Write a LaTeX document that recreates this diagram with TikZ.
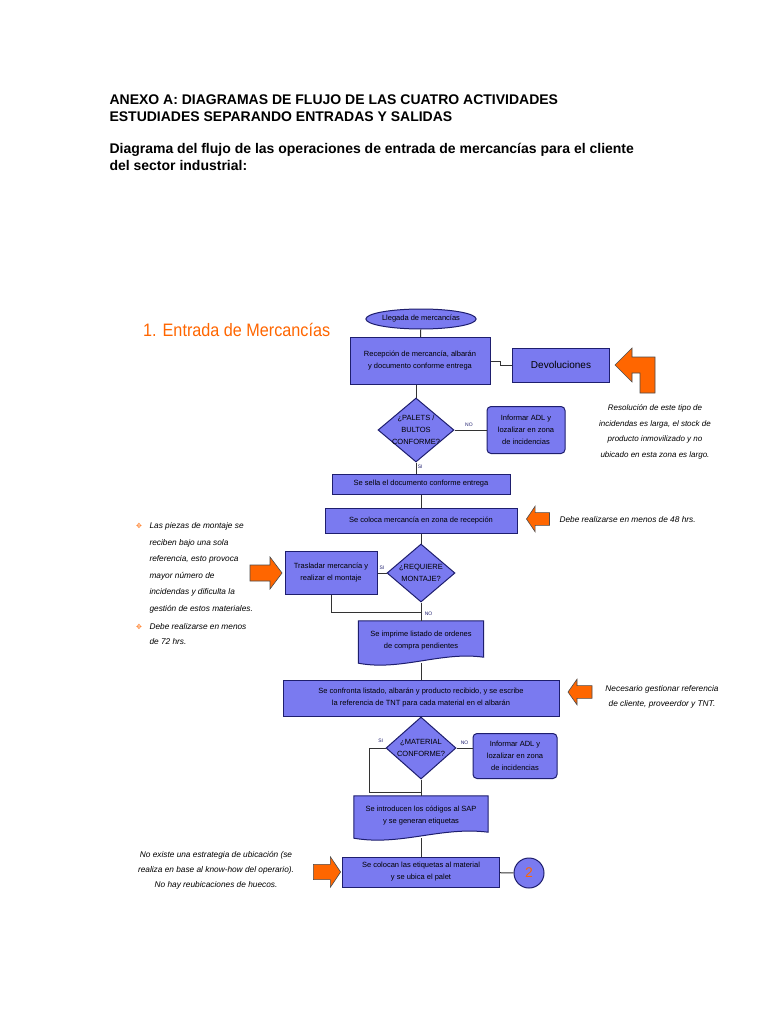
\documentclass[tikz,border=0pt]{standalone}
\usepackage{fontspec}
\setmainfont{Liberation Sans}
\newfontfamily\dejavu{DejaVu Sans}
\usetikzlibrary{shapes.geometric,calc}
\definecolor{boxfill}{RGB}{122,122,240}
\definecolor{boxline}{RGB}{30,30,110}
\definecolor{orng}{RGB}{255,102,0}
\newcommand{\orArrow}[4]{% x, y, xscale(dir*len/32), yscale
 \draw[draw=black!70,fill=orng,line width=0.6pt,shift={(#1,#2)},xscale=#3,yscale=#4] (-16,-8)--(4,-8)--(4,-16)--(16,0)--(4,16)--(4,8)--(-16,8)--cycle;}
\tikzset{
 box/.style={draw=boxline,fill=boxfill,line width=1pt,align=center,font=\fontsize{7.5}{12}\selectfont,inner sep=1pt},
 rbox/.style={box,rounded corners=4pt},
 dia/.style={box,diamond,aspect=1.2},
 conn/.style={line width=1pt,black!80},
 lbl/.style={font=\fontsize{5}{6}\selectfont,text=boxline},
 note/.style={font=\itshape\fontsize{8}{15}\selectfont,align=center},
}
\begin{document}
\begin{tikzpicture}[x=1pt,y=-1pt]
\useasboundingbox[fill=white] (0,0) rectangle (768,1024);
\node[anchor=west,font=\bfseries\fontsize{14}{17}\selectfont,align=left] (t1) at (106,108) {ANEXO A: DIAGRAMAS DE FLUJO DE LAS CUATRO ACTIVIDADES\\ESTUDIADES SEPARANDO ENTRADAS Y SALIDAS};
\node[anchor=west,font=\bfseries\fontsize{14}{17}\selectfont,align=left] (t2) at (106,157) {Diagrama del flujo de las operaciones de entrada de mercancías para el cliente\\del sector industrial:};
\node[anchor=west,text=orng,font=\fontsize{18}{20}\selectfont,xscale=0.9] (h) at (140,330) {1. Entrada de Mercancías};

\node[box,ellipse,minimum width=110,minimum height=20,inner sep=0] (a) at (421,319) {Llegada de mercancías};
\node[box,minimum width=140,minimum height=47] (b) at (420,361) {Recepción de mercancía, albarán\\y documento conforme entrega};
\node[box,minimum width=97,minimum height=34,font=\fontsize{10}{11}\selectfont] (dev) at (561,365) {Devoluciones};
\node[dia,minimum width=76,minimum height=64,inner sep=-6pt] (c) at (416,430) {¿PALETS /\\BULTOS\\CONFORME?};
\node[rbox,minimum width=78,minimum height=47] (i1) at (526,430) {Informar ADL y\\lozalizar en zona\\de incidencias};
\node[box,minimum width=178,minimum height=20] (d) at (421,484) {Se sella el documento conforme entrega};
\node[box,minimum width=192,minimum height=25] (e) at (421,521) {Se coloca mercancía en zona de recepción};
\node[dia,minimum width=68,minimum height=58,inner sep=-4pt] (f) at (421,573) {¿REQUIERE\\MONTAJE?};
\node[box,minimum width=92,minimum height=43] (g) at (331,573) {Trasladar mercancía y\\realizar el montaje};
\node[draw=none,minimum width=125,minimum height=40] (h1) at (421,641) {};
\node[box,minimum width=276,minimum height=36] (k) at (421,698) {Se confronta listado, albarán y producto recibido, y se escribe\\la referencia de TNT para cada material en el albarán};
\node[dia,minimum width=70,minimum height=62,inner sep=-5pt] (m) at (421,748) {¿MATERIAL\\CONFORME?};
\node[rbox,minimum width=84,minimum height=45] (i2) at (515,756) {Informar ADL y\\lozalizar en zona\\de incidencias};
\node[draw=none,minimum width=134,minimum height=40] (n) at (421,816) {};
\node[box,minimum width=157,minimum height=30] (p) at (421,872) {Se colocan las etiquetas al material\\y se ubica el palet};
\node[box,circle,minimum size=30,text=orng,font=\fontsize{14}{14}\selectfont] (q) at (529,873) {2};

% document shapes
\draw[draw=boxline,fill=boxfill,line width=1pt] (h1.north west) -- (h1.north east) -- ($(h1.south east)+(0,-4)$) .. controls ($(h1.south)+(20,-10)$) and ($(h1.south)+(-20,10)$) .. ($(h1.south west)+(0,2)$) -- cycle;
\node[align=center,font=\fontsize{7.5}{12}\selectfont] (h1t) at (h1.center) {Se imprime listado de ordenes\\de compra pendientes};
\draw[draw=boxline,fill=boxfill,line width=1pt] (n.north west) -- (n.north east) -- ($(n.south east)+(0,-4)$) .. controls ($(n.south)+(20,-10)$) and ($(n.south)+(-20,10)$) .. ($(n.south west)+(0,2)$) -- cycle;
\node[align=center,font=\fontsize{7.5}{12}\selectfont] (nt) at (n.center) {Se introducen los códigos al SAP\\y se generan etiquetas};

% connectors
\draw[conn] (a) -- (b);
\draw[conn] (b.east) -- ++(10,0) |- (dev.west);
\draw[conn] (c.north) -- (c.north|-b.south);
\draw[conn] (c) -- (i1) node[lbl,pos=0.45,above] {NO};
\draw[conn] (c.south) -- (c.south|-d.north) node[lbl,pos=0.4,right=-2pt] {SI};
\draw[conn] (d) -- (e);
\draw[conn] (e) -- (f);
\draw[conn] (f) -- (g) node[lbl,midway,above] {SI};
\coordinate (j1) at (421,612);
\draw[conn] (g.south) |- (j1);
\draw[conn] (f) -- (h1.north) node[lbl,pos=0.6,right] {NO};
\draw[conn] ($(h1.south)+(0,2)$) -- (k);
\draw[conn] (k) -- (m);
\draw[conn] (m) -- (i2.west|-m.east) node[lbl,midway,above] {NO};
\coordinate (j2) at (421,792);
\draw[conn] (m.west) -- ++(-16,0) node[lbl,above,pos=0.3,yshift=2pt] {SI} |- (j2);
\draw[conn] (m) -- (n.north);
\draw[conn] ($(n.south)+(0,2)$) -- (p);
\draw[conn] (p) -- (q);

% orange arrows
\orArrow{538}{519}{-0.72}{0.8}
\orArrow{266}{573}{1}{1}
\orArrow{580}{692}{-0.75}{0.8}
\orArrow{327}{872}{0.85}{0.95}
\draw[draw=black!70,fill=orng,line width=0.6pt] (655,393) -- (655,357) -- (632,357) -- (632,348) -- (615,365) -- (632,382) -- (632,373) -- (640,373) -- (640,393) -- cycle;

% notes
\node[note,font=\itshape\fontsize{8}{15.5}\selectfont] (r1) at (655,432) {Resolución de este tipo de\\incidendas es larga, el stock de\\producto inmovilizado y no\\ubicado en esta zona es largo.};
\node[note,anchor=west,font=\itshape\fontsize{8.3}{9}\selectfont] (r2) at (556,520) {Debe realizarse en menos de 48 hrs.};
\node[note,font=\itshape\fontsize{8.3}{15}\selectfont] (r3) at (662,697) {Necesario gestionar referencia\\de cliente, proveerdor y TNT.};
\node[note,font=\itshape\fontsize{8.3}{15}\selectfont] (r4) at (216,870) {No existe una estrategia de ubicación (se\\realiza en base al know-how del operario).\\No hay reubicaciones de huecos.};
\node[note,anchor=north west,align=left,font=\itshape\fontsize{8.3}{16.5}\selectfont] (l1) at (146,519) {Las piezas de montaje se\\reciben bajo una sola\\referencia, esto provoca\\mayor número de\\incidendas y dificulta la\\gestión de estos materiales.};
\node[note,anchor=north west,align=left,font=\itshape\fontsize{8.3}{15}\selectfont] (l2) at (146,620) {Debe realizarse en menos\\de 72 hrs.};
\node[text=orng!80,font=\dejavu\fontsize{7}{7}\selectfont] (b1) at (139,526) {✥};
\node[text=orng!80,font=\dejavu\fontsize{7}{7}\selectfont] (b2) at (139,627) {✥};
\end{tikzpicture}
\end{document}
